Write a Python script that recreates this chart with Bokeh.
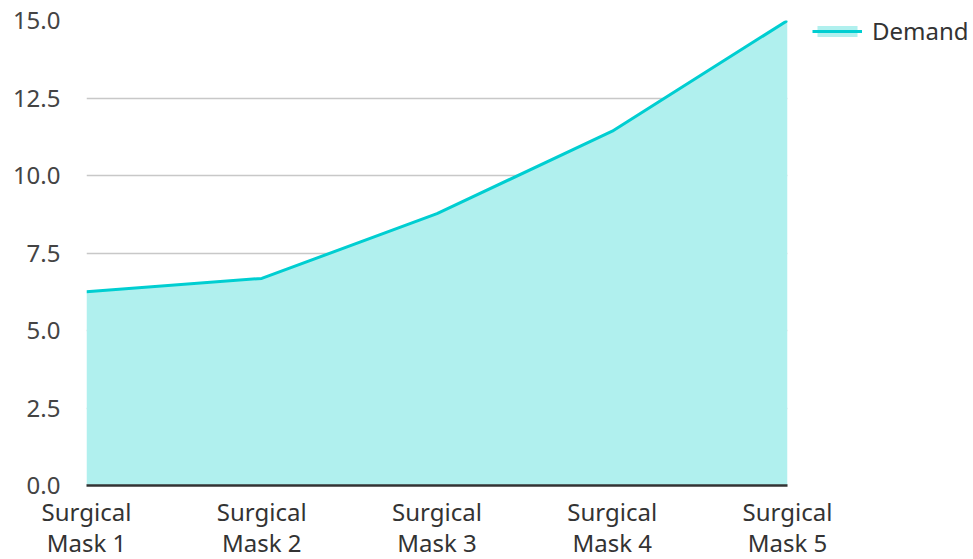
from bokeh.plotting import figure
from bokeh.models import Range1d, Legend, LegendItem, FixedTicker
from bokeh.embed import file_html
from bokeh.resources import INLINE

categories = ["Surgical\nMask 1", "Surgical\nMask 2", "Surgical\nMask 3", "Surgical\nMask 4", "Surgical\nMask 5"]
demand = [6.25, 6.68, 8.77, 11.43, 15.0]
y_ticks = [0.0, 2.5, 5.0, 7.5, 10.0, 12.5, 15.0]

xs = list(range(len(categories)))
FONT = "Noto Sans"

p = figure(frame_width=701, frame_height=465, output_backend="svg", toolbar_location=None,
           x_range=Range1d(0, len(categories) - 1), y_range=Range1d(0, 15),
           min_border_left=86, min_border_right=186, min_border_top=20, min_border_bottom=60)
p.outline_line_color = None

area = p.varea(x=xs, y1=0, y2=demand, fill_color="#b0f0ee", fill_alpha=1.0)
line = p.line(x=xs, y=demand, line_color="#00ced1", line_width=3)

p.xgrid.grid_line_color = None
p.ygrid.grid_line_color = "#c8c8c8"
p.ygrid.grid_line_width = 1.5
p.yaxis.ticker = FixedTicker(ticks=y_ticks)
p.yaxis.major_label_overrides = {t: f"{t:.1f}" for t in y_ticks}
p.yaxis.axis_line_color = None
p.yaxis.major_tick_line_color = None
p.yaxis.minor_tick_line_color = None
p.yaxis.major_label_standoff = 20
p.yaxis.major_label_text_font = FONT
p.yaxis.major_label_text_font_size = "24px"
p.yaxis.major_label_text_color = "#444444"

p.xaxis.ticker = FixedTicker(ticks=xs)
p.xaxis.major_label_overrides = {i: c for i, c in enumerate(categories)}
p.xaxis.axis_line_color = "#333333"
p.xaxis.axis_line_width = 2.5
p.xaxis.major_tick_line_color = None
p.xaxis.minor_tick_line_color = None
p.xaxis.major_label_standoff = 3
p.xaxis.major_label_text_font = FONT
p.xaxis.major_label_text_font_size = "24px"
p.xaxis.major_label_text_line_height = 0.95
p.xaxis.major_label_text_color = "#333333"

legend = Legend(items=[LegendItem(label="Demand", renderers=[area, line])],
                location=(25, 438), orientation="vertical",
                glyph_width=50, glyph_height=14, label_standoff=10,
                label_text_font=FONT, label_text_font_size="24px",
                label_text_color="#333333", background_fill_alpha=0,
                border_line_color=None, padding=0, margin=0)
p.add_layout(legend, "right")

open("out.html", "w").write(file_html(p, INLINE))
